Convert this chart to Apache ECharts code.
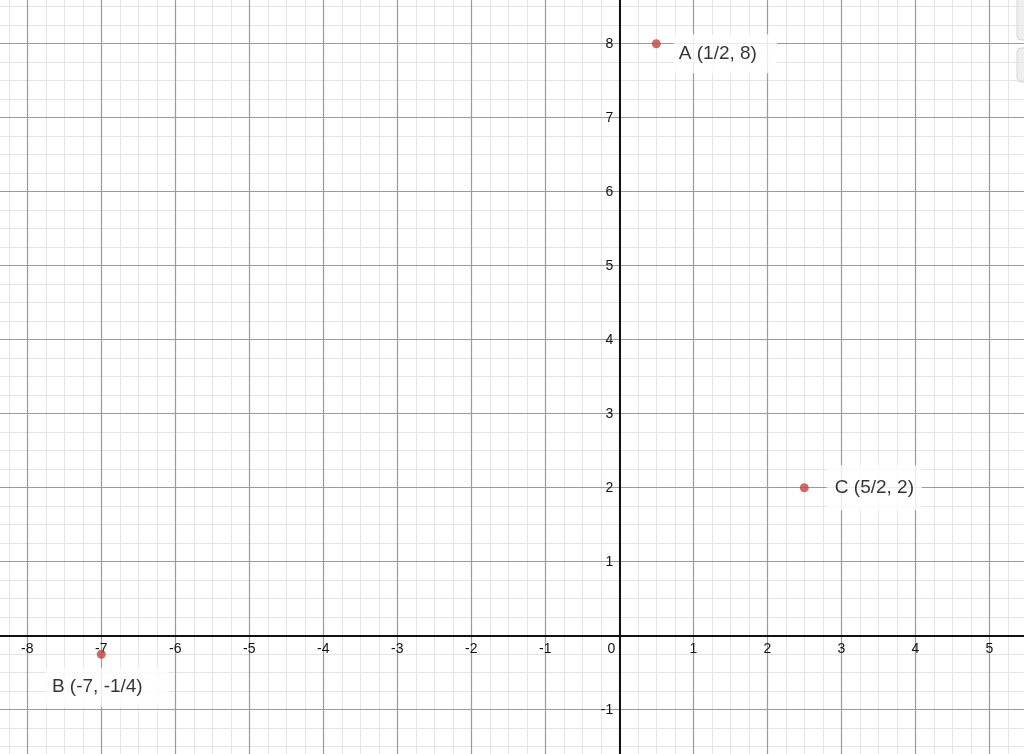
<!DOCTYPE html>
<html>
<head>
<meta charset="utf-8">
<script src="https://cdn.jsdelivr.net/npm/echarts@6/dist/echarts.min.js"></script>
<style>
html,body{margin:0;padding:0;background:#fff;}
#chart{width:1024px;height:754px;}
</style>
</head>
<body>
<div id="chart"></div>
<script>
// Data
const pointNames = ['A', 'B', 'C'];
const pointX = [0.5, -7, 2.5];
const pointY = [8, -0.25, 2];
const pointLabels = ['A (1/2, 8)', 'B (-7, -1/4)', 'C (5/2, 2)'];
const xRange = [-9, 6];
const yRange = [-2, 9];
const majorStep = 1;
const minorStep = 0.25;

const labelStyles = [
  { position: 'right', distance: 13, offset: [0, 10], padding: [8, 20, 8, 5] },
  { position: 'bottom', distance: 9, offset: [6, 0], padding: [8, 26, 8, 6] },
  { position: 'right', distance: 18, offset: [0, 0], padding: [11, 8, 11, 8] }
];

const FONT = 'Liberation Sans, Arial, sans-serif';
const chart = echarts.init(document.getElementById('chart'));
const axisBase = {
  type: 'value',
  interval: majorStep,
  z: 2,
  axisLine: { onZero: true, lineStyle: { color: '#111', width: 2 } },
  axisTick: { show: false },
  axisLabel: { show: false },
  splitLine: { show: true, lineStyle: { color: '#9a9a9a', width: 1.2 } }
};
const minorAxisBase = {
  type: 'value',
  interval: minorStep,
  z: 0,
  axisLine: { show: false, onZero: false },
  axisTick: { show: false },
  axisLabel: { show: false },
  splitLine: { show: true, lineStyle: { color: '#e4e4e4', width: 1 } }
};
const labelAxisBase = {
  type: 'value',
  interval: majorStep,
  z: 3,
  axisLine: { show: false, onZero: false },
  axisTick: { show: false },
  splitLine: { show: false }
};

chart.setOption({
  backgroundColor: '#ffffff',
  animation: false,
  grid: { left: -46.7, right: -39.3, top: -30.3, bottom: -29.7, containLabel: false, outerBoundsMode: 'none' },
  xAxis: [
    Object.assign({}, axisBase, { min: xRange[0], max: xRange[1] }),
    Object.assign({}, labelAxisBase, {
      min: xRange[0], max: xRange[1], position: 'bottom', offset: -148,
      axisLabel: {
        margin: 6, color: '#111', fontSize: 14, fontFamily: FONT,
        formatter: v => v === 0 ? '{z|0}' : String(v),
        rich: { z: { padding: [0, 16, 0, 0], fontSize: 14, color: '#111', fontFamily: FONT } }
      }
    }),
    Object.assign({}, minorAxisBase, { min: xRange[0], max: xRange[1] })
  ],
  yAxis: [
    Object.assign({}, axisBase, { min: yRange[0], max: yRange[1] }),
    Object.assign({}, labelAxisBase, {
      min: yRange[0], max: yRange[1], position: 'left', offset: -666,
      axisLabel: {
        margin: 6, color: '#111', fontSize: 14, fontFamily: FONT,
        formatter: v => v === 0 ? '' : String(v)
      }
    }),
    Object.assign({}, minorAxisBase, { min: yRange[0], max: yRange[1] })
  ],
  series: [{
    type: 'scatter',
    symbolSize: 9,
    z: 5,
    itemStyle: { color: '#c74440' },
    data: pointX.map((x, i) => ({
      value: [x, pointY[i]],
      name: pointNames[i],
      label: Object.assign({
        show: true,
        formatter: pointLabels[i],
        fontSize: 19,
        lineHeight: 23,
        color: '#000',
        fontFamily: FONT,
        backgroundColor: '#ffffff'
      }, labelStyles[i])
    }))
  }],
  graphic: [
    { type: 'rect', shape: { x: 1017, y: -10, width: 20, height: 50, r: 4 }, style: { fill: '#eeeeee', stroke: '#d4d4d4', lineWidth: 1 } },
    { type: 'rect', shape: { x: 1017, y: 48, width: 20, height: 34, r: 4 }, style: { fill: '#eeeeee', stroke: '#d4d4d4', lineWidth: 1 } }
  ]
});
</script>
</body>
</html>
